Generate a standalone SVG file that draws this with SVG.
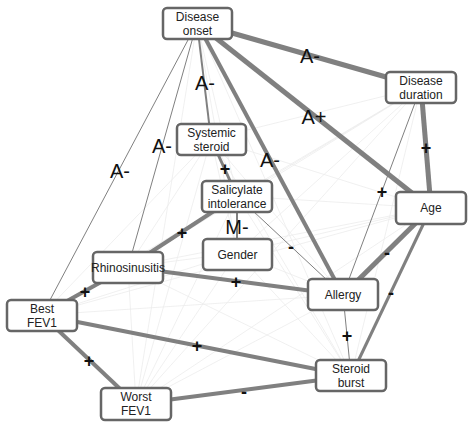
<svg xmlns="http://www.w3.org/2000/svg" width="474" height="428" viewBox="0 0 474 428">
<style>
.n rect{fill:#fff;stroke:#666;stroke-width:2.5}
.n text{font-family:"Liberation Sans",Arial,sans-serif;font-size:12px;fill:#222;text-anchor:middle}
.e line{stroke:#808080;stroke-linecap:butt}
.f line{stroke:#ececec;stroke-width:0.8}
.l text{font-family:"Liberation Sans",Arial,sans-serif;fill:#111;text-anchor:middle}
.big{font-size:20px}
.sm{font-size:18px;font-weight:bold}
</style>
<rect width="474" height="428" fill="#fff"/>
<g id="connectors">
<g class="f">
<line x1="197" y1="23" x2="237" y2="196"/>
<line x1="197" y1="23" x2="237" y2="253"/>
<line x1="197" y1="23" x2="351" y2="376"/>
<line x1="197" y1="23" x2="136" y2="404"/>
<line x1="421" y1="87" x2="211" y2="139"/>
<line x1="421" y1="87" x2="237" y2="196"/>
<line x1="421" y1="87" x2="237" y2="253"/>
<line x1="421" y1="87" x2="128" y2="267"/>
<line x1="421" y1="87" x2="42" y2="315"/>
<line x1="421" y1="87" x2="351" y2="376"/>
<line x1="421" y1="87" x2="136" y2="404"/>
<line x1="211" y1="139" x2="237" y2="253"/>
<line x1="211" y1="139" x2="431" y2="208"/>
<line x1="211" y1="139" x2="128" y2="267"/>
<line x1="211" y1="139" x2="343" y2="295"/>
<line x1="211" y1="139" x2="42" y2="315"/>
<line x1="211" y1="139" x2="351" y2="376"/>
<line x1="211" y1="139" x2="136" y2="404"/>
<line x1="237" y1="196" x2="431" y2="208"/>
<line x1="237" y1="196" x2="42" y2="315"/>
<line x1="237" y1="196" x2="351" y2="376"/>
<line x1="237" y1="196" x2="136" y2="404"/>
<line x1="237" y1="253" x2="431" y2="208"/>
<line x1="237" y1="253" x2="128" y2="267"/>
<line x1="237" y1="253" x2="343" y2="295"/>
<line x1="237" y1="253" x2="42" y2="315"/>
<line x1="237" y1="253" x2="351" y2="376"/>
<line x1="237" y1="253" x2="136" y2="404"/>
<line x1="431" y1="208" x2="128" y2="267"/>
<line x1="431" y1="208" x2="42" y2="315"/>
<line x1="431" y1="208" x2="136" y2="404"/>
<line x1="128" y1="267" x2="351" y2="376"/>
<line x1="128" y1="267" x2="136" y2="404"/>
<line x1="343" y1="295" x2="42" y2="315"/>
<line x1="343" y1="295" x2="136" y2="404"/>
</g>
<g class="e">
<line x1="197" y1="23" x2="421" y2="87" stroke-width="5"/>
<line x1="197" y1="23" x2="431" y2="208" stroke-width="5"/>
<line x1="197" y1="23" x2="343" y2="295" stroke-width="4"/>
<line x1="197" y1="23" x2="211" y2="139" stroke-width="2"/>
<line x1="197" y1="23" x2="128" y2="267" stroke-width="1"/>
<line x1="197" y1="23" x2="42" y2="315" stroke-width="1"/>
<line x1="421" y1="87" x2="431" y2="208" stroke-width="5"/>
<line x1="421" y1="87" x2="343" y2="295" stroke-width="1"/>
<line x1="211" y1="139" x2="237" y2="196" stroke-width="3"/>
<line x1="237" y1="196" x2="237" y2="253" stroke-width="2"/>
<line x1="237" y1="196" x2="128" y2="267" stroke-width="4"/>
<line x1="237" y1="196" x2="343" y2="295" stroke-width="1"/>
<line x1="431" y1="208" x2="343" y2="295" stroke-width="5"/>
<line x1="431" y1="208" x2="351" y2="376" stroke-width="3"/>
<line x1="128" y1="267" x2="343" y2="295" stroke-width="4"/>
<line x1="128" y1="267" x2="42" y2="315" stroke-width="4"/>
<line x1="42" y1="315" x2="351" y2="376" stroke-width="4"/>
<line x1="42" y1="315" x2="136" y2="404" stroke-width="4"/>
<line x1="136" y1="404" x2="351" y2="376" stroke-width="4"/>
<line x1="343" y1="295" x2="351" y2="376" stroke-width="1"/>
</g>
<g class="l">
<text class="big" x="310" y="63">A-</text>
<text class="big" x="314" y="124">A+</text>
<text class="big" x="270" y="167">A-</text>
<text class="big" x="205" y="90">A-</text>
<text class="big" x="162" y="153">A-</text>
<text class="big" x="120" y="178">A-</text>
<text class="big" x="237" y="234">M-</text>
<text class="sm" x="426" y="154">+</text>
<text class="sm" x="382" y="198">+</text>
<text class="sm" x="225" y="175">+</text>
<text class="sm" x="182" y="239">+</text>
<text class="sm" x="291" y="253">-</text>
<text class="sm" x="236" y="288">+</text>
<text class="sm" x="387" y="259">-</text>
<text class="sm" x="391" y="299">-</text>
<text class="sm" x="347" y="342">+</text>
<text class="sm" x="85" y="298">+</text>
<text class="sm" x="197" y="352">+</text>
<text class="sm" x="89" y="367">+</text>
<text class="sm" x="244" y="398">-</text>
</g>
</g>
<g id="disease-onset" class="n"><rect x="163" y="8" width="69" height="31" rx="4"/><text x="197.5" y="21">Disease</text><text x="197.5" y="35">onset</text></g>
<g id="disease-duration" class="n"><rect x="386" y="72" width="70" height="31" rx="4"/><text x="421" y="85">Disease</text><text x="421" y="99">duration</text></g>
<g id="systemic-steroid" class="n"><rect x="177" y="124" width="69" height="31" rx="4"/><text x="211.5" y="137">Systemic</text><text x="211.5" y="151">steroid</text></g>
<g id="salicylate-intolerance" class="n"><rect x="202" y="181" width="70" height="31" rx="4"/><text x="237" y="194">Salicylate</text><text x="237" y="208">intolerance</text></g>
<g id="gender" class="n"><rect x="203" y="239" width="69" height="31" rx="4"/><text x="237.5" y="259">Gender</text></g>
<g id="age" class="n"><rect x="396" y="192" width="70" height="32" rx="4"/><text x="431" y="212">Age</text></g>
<g id="rhinosinusitis" class="n"><rect x="93" y="252" width="70" height="31" rx="4"/><text x="128" y="272">Rhinosinusitis</text></g>
<g id="allergy" class="n"><rect x="308" y="279" width="70" height="31" rx="4"/><text x="343" y="299">Allergy</text></g>
<g id="best-fev1" class="n"><rect x="7" y="300" width="70" height="31" rx="4"/><text x="42" y="313">Best</text><text x="42" y="327">FEV1</text></g>
<g id="steroid-burst" class="n"><rect x="316" y="360" width="70" height="31" rx="4"/><text x="351" y="373">Steroid</text><text x="351" y="387">burst</text></g>
<g id="worst-fev1" class="n"><rect x="101" y="388" width="70" height="32" rx="4"/><text x="136" y="401">Worst</text><text x="136" y="415">FEV1</text></g>
</svg>
